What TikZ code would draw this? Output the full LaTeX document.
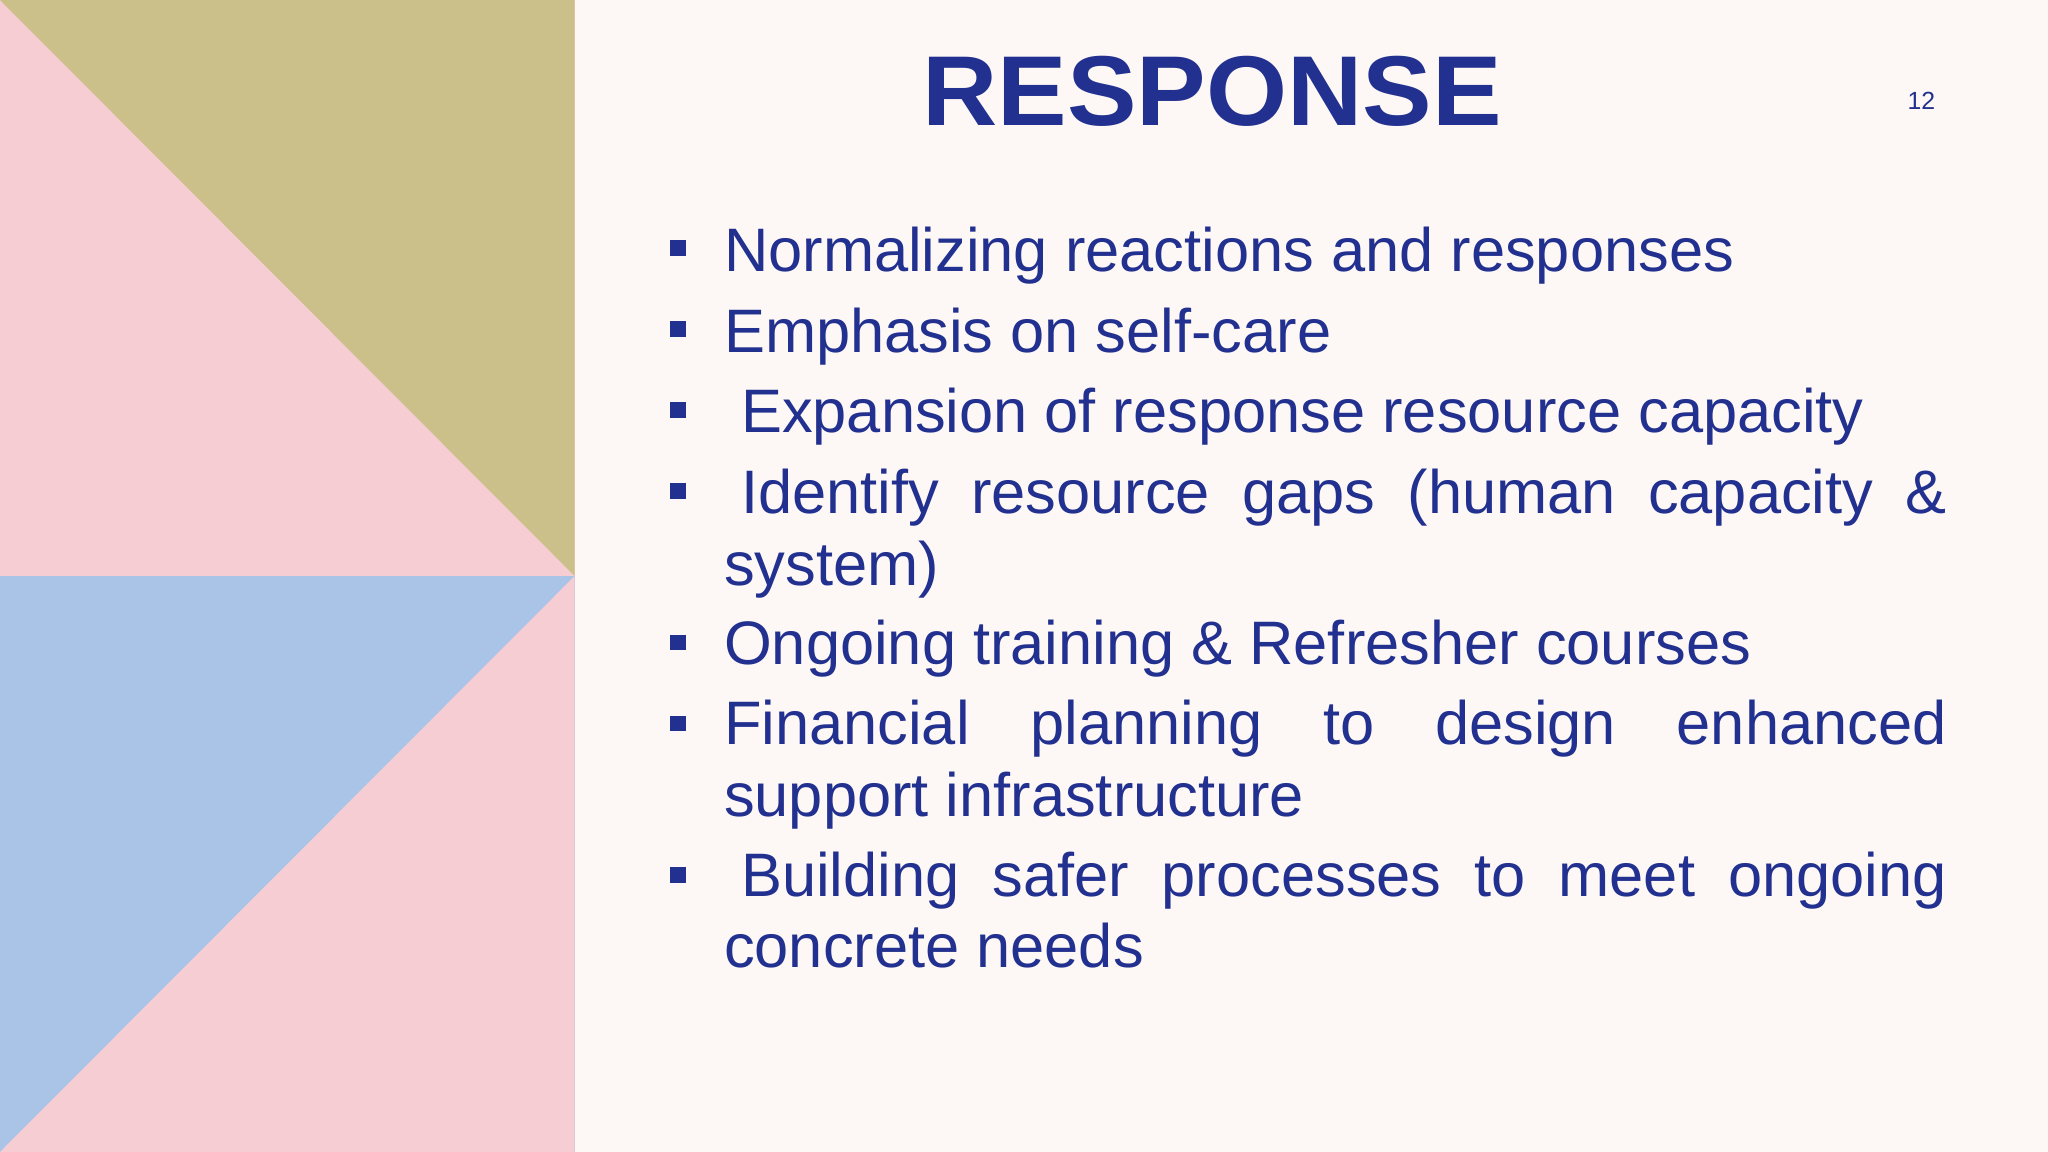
\documentclass[tikz,border=0pt]{standalone}
\usepackage{fontspec}
\setmainfont{Liberation Sans}
\definecolor{bg}{HTML}{FDF8F6}
\definecolor{pinkc}{HTML}{F5CDD2}
\definecolor{olivec}{HTML}{CCC08A}
\definecolor{bluec}{HTML}{AAC4E8}
\definecolor{navy}{HTML}{22308F}
\tikzset{
  item/.style={anchor=base west, inner sep=0pt, text=navy, font=\fontsize{23.5}{27.5}\selectfont},
  bul/.style={fill=navy, minimum size=6pt, inner sep=0pt}
}
\newcommand{\jline}[1]{\makebox[468pt][s]{#1}}
\begin{document}
\begin{tikzpicture}[x=0.5pt,y=-0.5pt]
\useasboundingbox (0,0) rectangle (1568,882);
\fill[bg] (0,0) rectangle (1568,882);
\fill[pinkc] (0,0) rectangle (440,441);
\fill[olivec] (0,0) -- (440,0) -- (440,441) -- cycle;
\fill[bluec] (0,441) rectangle (440,882);
\fill[pinkc] (440,441) -- (440,882) -- (0,882) -- cycle;
\node[text=navy, font=\fontsize{38}{40}\selectfont\bfseries, xscale=1.05, inner sep=0pt] (title) at (928,70) {RESPONSE};
\node[text=navy, font=\fontsize{9.5}{11}\selectfont, inner sep=0pt] (num) at (1471,77) {12};
\foreach \y in {190,252,314,376,492,554,670} \node[bul] at (519,\y) {};
\node[item] (i1) at (554,208) {Normalizing reactions and responses};
\node[item] (i2) at (554,270) {Emphasis on self-care};
\node[item] (i3) at (554,331) {\hspace*{6.5pt}Expansion of response resource capacity};
\node[item] (i4) at (554,393) {\jline{\hspace*{6.5pt}Identify resource gaps (human capacity \&}};
\node[item] (i4b) at (554,448) {system)};
\node[item] (i5) at (554,509) {Ongoing training \& Refresher courses};
\node[item] (i6) at (554,570) {\jline{Financial planning to design enhanced}};
\node[item] (i6b) at (554,625) {support infrastructure};
\node[item] (i7) at (554,686) {\jline{\hspace*{6.5pt}Building safer processes to meet ongoing}};
\node[item] (i7b) at (554,741) {concrete needs};
\end{tikzpicture}
\end{document}
